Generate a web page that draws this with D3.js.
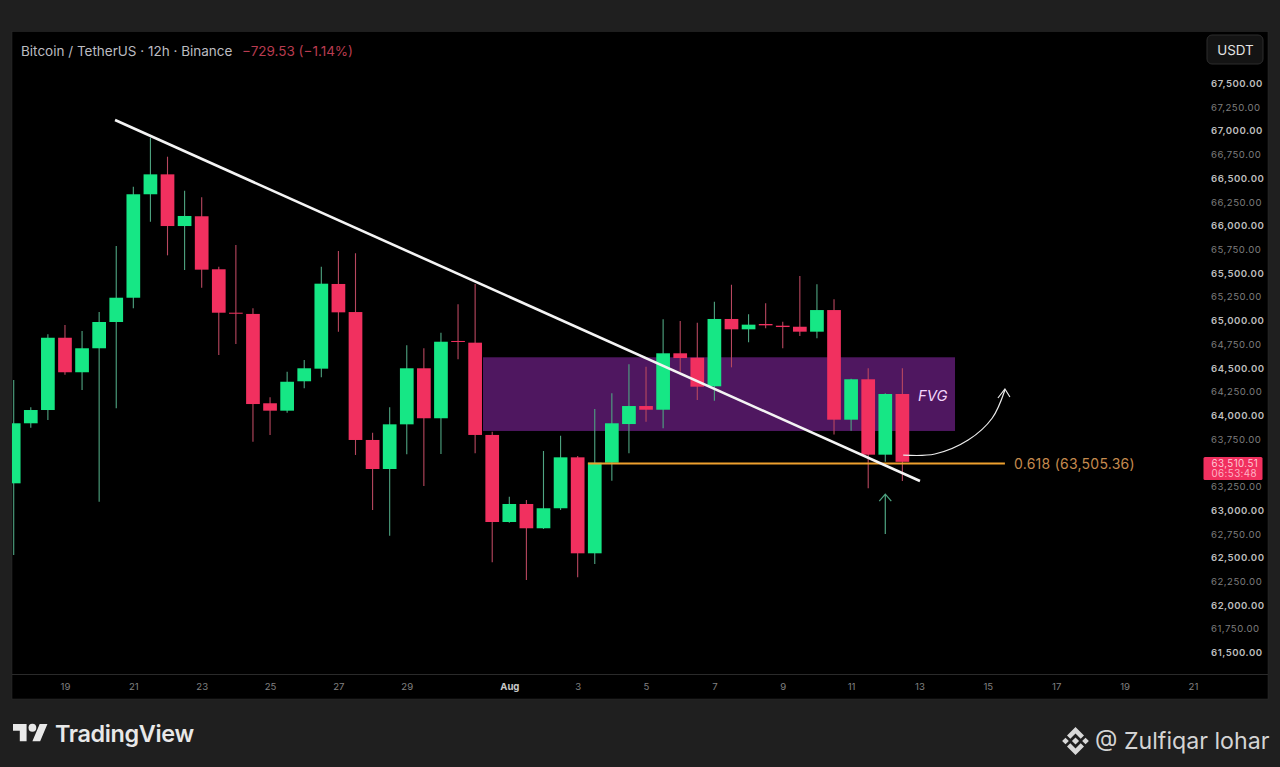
<!DOCTYPE html>
<html>
<head>
<meta charset="utf-8">
<style>
html,body{margin:0;padding:0;background:#1f1f1f;}
svg{display:block;}
text{font-family:Inter,"Noto Sans",sans-serif;}
</style>
<script src="https://cdn.jsdelivr.net/npm/d3@7"></script>
</head>
<body>
<svg id="c" width="1280" height="767"></svg>
<script>
// ---- data ----
const opens  = [63284,63917,64057,64819,64455,64708,64985,65241,66332,66542,65997,66100,65541,65083,65070,64128,64050,64360,64493,65386,65090,63741,63435,63906,64497,63970,64785,64767,63794,62876,63066,62810,63021,63558,62546,63501,63909,64099,64060,64655,64609,64307,65017,64908,64964,64946,64935,64883,65111,63955,64381,63586,64226];
const highs  = [64373,64085,64855,64953,64890,65090,65786,66412,66929,66728,66370,66300,65568,65797,65130,64191,64461,64584,65568,65734,65710,63818,64085,64740,64708,64872,65172,65386,63828,63143,63108,63625,63786,63572,64068,64234,64539,64514,65013,64996,64978,65199,65378,65066,65182,64988,65470,65382,65224,64387,64497,64234,64497];
const lows   = [62528,63870,63952,64429,64268,63090,64075,65130,66043,65688,65533,65347,64637,64753,63723,63794,64029,64286,64402,64883,63583,63003,62731,63590,63256,63593,64592,63600,62451,62869,62265,62802,63003,62293,62433,63312,63600,63934,63864,64461,64162,64155,64507,64771,64919,64708,64837,64813,63800,63839,63231,63512,63308];
const closes = [63917,64057,64819,64455,64708,64985,65241,66332,66542,65997,66103,65537,65083,65073,64120,64050,64355,64497,65389,65087,63741,63435,63906,64497,63970,64777,64777,63794,62876,63066,62810,63021,63558,62546,63501,63917,64099,64060,64655,64605,64303,65017,64908,64957,64950,64932,64883,65111,63955,64381,63586,64226,63510.51];

const priceTicks = d3.range(61500, 67501, 250).filter(v => v !== 63500);
const dateTickIndex  = [3,7,11,15,19,23,29,33,37,41,45,49,53,57,61,65,69];
const dateTickLabels = ["19","21","23","25","27","29","Aug","3","5","7","9","11","13","15","17","19","21"];

const trendIndex = [5.93, 53.03];
const trendPrice = [67115, 63308];
const fvgIndex = [27.46, 55.08];
const fvgPrice = [63836, 64613];
const fibIndex = [33.6, 58];
const fibPrice = 63493;
const curveIndex = [52.05, 53.9, 55.85, 57.25, 58.0];
const curvePrice = [63582, 63593, 63740, 63970, 64268];
const upArrowIndex = 51;
const upArrowPrice = [62750, 63170];

const titleText = "Bitcoin / TetherUS · 12h · Binance";
const changeText = "−729.53 (−1.14%)";
const lastPriceLabel = "63,510.51";
const countdownLabel = "06:53:48";
const fibLabel = "0.618 (63,505.36)";

// ---- scales ----
const GREEN="#16e785", RED="#f1305f", GREEN_W="#4fa582", RED_W="#b8475f";
const x = d3.scaleLinear().domain([0,69]).range([13.7,13.7+69*17.09]);
const y = d3.scaleLinear().domain([61500,67500]).range([652.5,83.5]);
const svg = d3.select("#c");
const bw = 13.7;

svg.append("rect").attr("width",1280).attr("height",767).attr("fill","#1f1f1f");
svg.append("rect").attr("x",12).attr("y",31.5).attr("width",1256).attr("height",667.5).attr("fill","#000").attr("stroke","#2e2e2e").attr("stroke-width",0.5);
svg.append("defs").append("clipPath").attr("id","plot").append("rect").attr("x",12).attr("y",32).attr("width",1188).attr("height",642);

// ---- axes ----
const ya = svg.append("g").attr("transform","translate(1208,0)")
  .call(d3.axisRight(y).tickValues(priceTicks).tickSize(0).tickPadding(3).tickFormat(d3.format(",.2f")));
ya.select(".domain").remove();
ya.selectAll("text").attr("font-size",9.6).attr("letter-spacing",0.5)
  .attr("font-weight",d=>d%500===0?600:400)
  .attr("fill",d=>d%500===0?"#bdbdbd":"#7d7d7d");

const xa = svg.append("g").attr("transform","translate(0,683.5)")
  .call(d3.axisBottom(x).tickValues(dateTickIndex).tickSize(0).tickPadding(0).tickFormat((d,i)=>dateTickLabels[i]));
xa.select(".domain").remove();
xa.selectAll("text").attr("font-size",9.6).attr("dy","0.71em")
  .attr("font-weight",(d,i)=>dateTickLabels[i]==="Aug"?700:400)
  .attr("fill",(d,i)=>dateTickLabels[i]==="Aug"?"#c8c8c8":"#808080");
svg.append("line").attr("x1",12).attr("x2",1268).attr("y1",674.5).attr("y2",674.5).attr("stroke","#2a2a2a");

// ---- FVG zone ----
const plot = svg.append("g").attr("clip-path","url(#plot)");
plot.append("rect").attr("x",x(fvgIndex[0])).attr("width",x(fvgIndex[1])-x(fvgIndex[0]))
  .attr("y",y(fvgPrice[1])).attr("height",y(fvgPrice[0])-y(fvgPrice[1])).attr("fill","#4f1760");

// ---- candles ----
const candles = opens.map((o,i)=>({i,o,h:highs[i],l:lows[i],c:closes[i],up:closes[i]>=o}));
const g = plot.selectAll("g.c").data(candles).join("g").attr("class","c");
g.append("line").attr("x1",d=>x(d.i)).attr("x2",d=>x(d.i)).attr("y1",d=>y(d.h)).attr("y2",d=>y(d.l))
  .attr("stroke",d=>d.up?GREEN_W:RED_W).attr("stroke-width",1.1);
g.append("rect").attr("x",d=>x(d.i)-bw/2).attr("width",bw)
  .attr("y",d=>y(Math.max(d.o,d.c))).attr("height",d=>Math.max(1,Math.abs(y(d.o)-y(d.c))))
  .attr("fill",d=>d.up?GREEN:RED);

// ---- fib line and label ----
svg.append("line").attr("x1",x(fibIndex[0])).attr("x2",x(fibIndex[1])).attr("y1",y(fibPrice)).attr("y2",y(fibPrice))
  .attr("stroke","#eda02e").attr("stroke-width",2.1);
svg.append("text").attr("x",1014).attr("y",y(fibPrice)).attr("dy","0.36em").attr("font-size",14).attr("letter-spacing",0.25)
  .attr("fill","#c58a4e").text(fibLabel);

// ---- trend line ----
svg.append("line").attr("x1",x(trendIndex[0])).attr("y1",y(trendPrice[0])).attr("x2",x(trendIndex[1])).attr("y2",y(trendPrice[1]))
  .attr("stroke","#f4f4f4").attr("stroke-width",2.6);

// ---- curved arrow ----
const curve = d3.line().x(d=>x(d[0])).y(d=>y(d[1])).curve(d3.curveCatmullRom);
const cpts = curveIndex.map((v,i)=>[v,curvePrice[i]]);
svg.append("path").attr("d",curve(cpts)).attr("fill","none").attr("stroke","#ececec").attr("stroke-width",1.2);
const tipX=x(curveIndex[4]), tipY=y(curvePrice[4]);
svg.append("path").attr("d",`M${tipX-7},${tipY+8}L${tipX},${tipY-1}L${tipX+5},${tipY+7}`).attr("fill","none").attr("stroke","#ececec").attr("stroke-width",1.2);

// ---- green up arrow ----
const ax=x(upArrowIndex), ay0=y(upArrowPrice[0]), ay1=y(upArrowPrice[1]);
svg.append("path").attr("d",`M${ax},${ay0}L${ax},${ay1}M${ax-6},${ay1+7}L${ax},${ay1}L${ax+6},${ay1+7}`)
  .attr("fill","none").attr("stroke","#4fa582").attr("stroke-width",1.2);

// ---- FVG label ----
svg.append("text").attr("x",918).attr("y",401).attr("font-size",14.8).attr("font-style","italic").attr("fill","#f3d6fb").text("FVG");

// ---- header ----
svg.append("text").attr("x",21).attr("y",55.5).attr("font-size",13.5).attr("fill","#bcbcc0").text(titleText);
svg.append("text").attr("x",242).attr("y",55.5).attr("font-size",13.5).attr("fill","#b93c50").text(changeText);
svg.append("rect").attr("x",1207).attr("y",35).attr("width",56).attr("height",29).attr("rx",5).attr("fill","#141414").attr("stroke","#2c2c2c");
svg.append("text").attr("x",1235.5).attr("y",54.7).attr("text-anchor","middle").attr("font-size",13.4).attr("fill","#e4e4e4").text("USDT");

// ---- last price tag ----
svg.append("rect").attr("x",1203.5).attr("y",457).attr("width",59).attr("height",23).attr("rx",1.5).attr("fill",RED);
svg.append("text").attr("x",1211.5).attr("y",467).attr("font-size",9.8).attr("letter-spacing",0.4).attr("fill","#ffc9d6").text(lastPriceLabel);
svg.append("text").attr("x",1211.5).attr("y",477).attr("font-size",9.8).attr("letter-spacing",0.4).attr("fill","#ffb3c5").text(countdownLabel);

// ---- footer: TradingView ----
svg.append("path").attr("transform","translate(13,720) scale(0.97)").attr("fill","#e8e8e8")
  .attr("d","M14 22H7V11H0V4h14v18zM28 22h-8l7.5-18h8L28 22z");
svg.append("circle").attr("cx",13+20*0.97).attr("cy",720+8*0.97).attr("r",3.9).attr("fill","#e8e8e8");
svg.append("text").attr("x",55).attr("y",741.5).attr("font-size",23.4).attr("font-weight",600).attr("letter-spacing",-0.35).attr("fill","#e8e8e8").text("TradingView");

// ---- footer: Binance mark and credit ----
const bm = svg.append("g").attr("transform","translate(1075.5,741)").attr("fill","#d8d8d8");
bm.append("path").attr("d","M0,-14 L8.5,-5.5 L5.2,-2.2 L0,-7.4 L-5.2,-2.2 L-8.5,-5.5 Z");
bm.append("path").attr("d","M0,14 L8.5,5.5 L5.2,2.2 L0,7.4 L-5.2,2.2 L-8.5,5.5 Z");
bm.append("path").attr("d","M0,-3.6 L3.6,0 L0,3.6 L-3.6,0 Z");
bm.append("path").attr("d","M-10,-3.3 L-13.4,0 L-10,3.3 L-6.7,0 Z");
bm.append("path").attr("d","M10,-3.3 L13.4,0 L10,3.3 L6.7,0 Z");
svg.append("text").attr("x",1095).attr("y",749).attr("font-size",23.2).attr("font-family","'Open Sans',sans-serif").attr("fill","#d4d4d4").text("@ Zulfiqar lohar");
</script>
</body>
</html>
